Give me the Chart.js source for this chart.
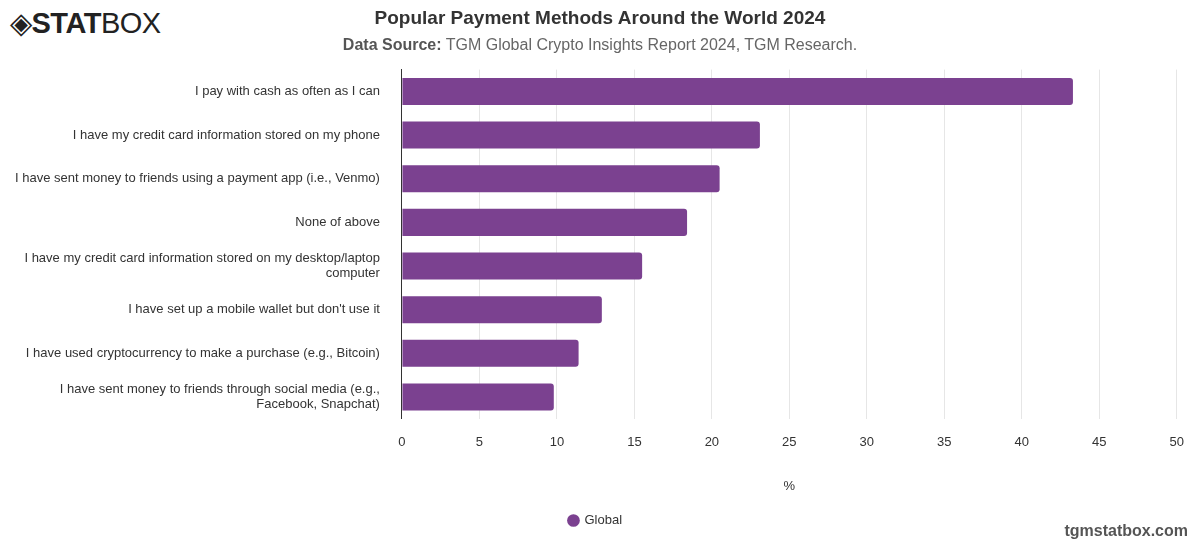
<!DOCTYPE html>
<html>
<head>
<meta charset="utf-8">
<script src="https://cdn.jsdelivr.net/npm/chart.js@4"></script>
<style>
  body { margin: 0; width: 1200px; height: 550px; background: #fff; font-family: "Helvetica Neue", Arial, "Liberation Sans", sans-serif; position: relative; overflow: hidden; }
  #logo { position: absolute; left: 10px; top: 6px; font-size: 29px; color: #222; letter-spacing: -0.5px; z-index: 2; }
  #logo b { font-weight: 900; }
  #title { position: absolute; left: 0; width: 1200px; top: 7px; text-align: center; font-size: 19px; font-weight: bold; color: #333; z-index: 2; }
  #sub { position: absolute; left: 0; width: 1200px; top: 36px; text-align: center; font-size: 16px; color: #666; z-index: 2; }
  #sub b { color: #555; }
  #site { position: absolute; right: 12px; bottom: 10px; font-size: 16px; font-weight: bold; color: #555; }
  #wrap { position: absolute; left: 0; top: 40px; width: 1200px; height: 497px; }
</style>
</head>
<body>
<div id="logo">&#9672;<b>STAT</b>BOX</div>
<div id="title">Popular Payment Methods Around the World 2024</div>
<div id="sub"><b>Data Source:</b> TGM Global Crypto Insights Report 2024, TGM Research.</div>
<div id="wrap"><canvas id="chart"></canvas></div>
<div id="site">tgmstatbox.com</div>
<script>
// Категории и значения
const categories = [
  'I pay with cash as often as I can',
  'I have my credit card information stored on my phone',
  'I have sent money to friends using a payment app (i.e., Venmo)',
  'None of above',
  ['I have my credit card information stored on my desktop/laptop', 'computer'],
  "I have set up a mobile wallet but don't use it",
  'I have used cryptocurrency to make a purchase (e.g., Bitcoin)',
  ['I have sent money to friends through social media (e.g.,', 'Facebook, Snapchat)']
];
const globalValues = [43.3, 23.1, 20.5, 18.4, 15.5, 12.9, 11.4, 9.8];

new Chart(document.getElementById('chart'), {
  type: 'bar',
  data: {
    labels: categories,
    datasets: [{
      label: 'Global',
      data: globalValues,
      backgroundColor: '#7b4190',
      borderRadius: 3,
      barPercentage: 0.62,
      categoryPercentage: 1
    }]
  },
  options: {
    indexAxis: 'y',
    responsive: true,
    maintainAspectRatio: false,
    animation: false,
    layout: { padding: { left: 1, right: 10, bottom: 0 } },
    plugins: {
      legend: {
        position: 'bottom',
        labels: { usePointStyle: true, pointStyle: 'circle', boxWidth: 9, boxHeight: 9, color: '#333', font: { size: 13 }, padding: 16 }
      },
      tooltip: { enabled: false }
    },
    scales: {
      x: {
        min: 0, max: 50,
        ticks: { stepSize: 5, color: '#333', font: { size: 13 }, padding: 16 },
        grid: { color: '#e6e6e6', drawTicks: false },
        border: { display: false },
        title: { display: true, text: '%', color: '#333', font: { size: 13 }, padding: { top: 12, bottom: 4 } }
      },
      y: {
        ticks: { color: '#333', font: { size: 13 }, padding: 14 },
        grid: { display: false },
        border: { color: '#333' }
      }
    }
  }
});
</script>
</body>
</html>
